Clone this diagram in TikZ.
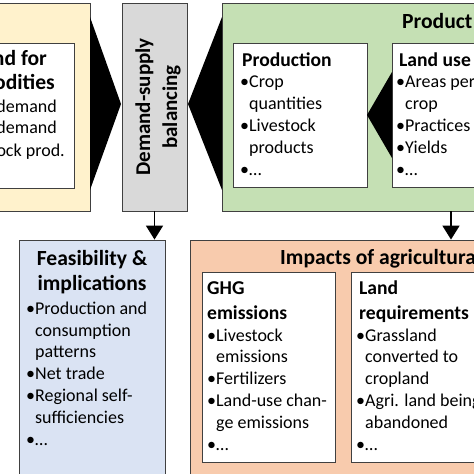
\documentclass[tikz,border=0pt]{standalone}
\usepackage{fontspec}
\setmainfont{Carlito}
\usetikzlibrary{arrows.meta}
\definecolor{cYel}{HTML}{FFF2CC}
\definecolor{cGray}{HTML}{D9D9D9}
\definecolor{cGreen}{HTML}{C5E0B4}
\definecolor{cBlue}{HTML}{DAE3F3}
\definecolor{cOrange}{HTML}{F8CBAD}
\definecolor{cLine}{HTML}{404040}
\newcommand{\bl}{\makebox[9pt][l]{•}}
\newcommand{\hh}{\hspace*{9pt}}
\begin{document}
\begin{tikzpicture}[x=1pt,y=-1pt,
  panel/.style={draw=cLine, line width=0.9pt, inner sep=0pt},
  wbox/.style={panel, fill=white},
  hd/.style={font=\fontsize{19.6}{25}\selectfont\bfseries, inner sep=0pt, anchor=base west, align=left},
  hdbig/.style={hd, font=\fontsize{21.6}{25}\selectfont\bfseries},
  bd/.style={font=\fontsize{18}{21.8}\selectfont, inner sep=0pt, anchor=base west, align=left},
  chev/.style={fill=black},
  arr/.style={-{Triangle[length=14pt,width=17pt]}, line width=1.8pt}
]
\useasboundingbox (0,0) rectangle (474,474);
\clip (0,0) rectangle (474,474);
% panels
\node[panel, fill=cYel, minimum width=100pt, minimum height=208pt] (dem) at (40,107) {};
\node[wbox, minimum width=84pt, minimum height=145pt] (demin) at (32,115.5) {};
\node[panel, fill=cGray, minimum width=65pt, minimum height=208pt] (bal) at (154.5,107) {};
\node[panel, fill=cGreen, minimum width=268pt, minimum height=208pt] (sup) at (356,107) {};
\node[wbox, minimum width=134pt, minimum height=144pt] (prod) at (300,115) {};
\node[wbox, minimum width=98pt, minimum height=144pt] (land) at (441,115) {};
\node[panel, fill=cBlue, minimum width=146pt, minimum height=250pt] (feas) at (92,365) {};
\node[panel, fill=cOrange, minimum width=300pt, minimum height=250pt] (imp) at (340,365) {};
\node[wbox, minimum width=133pt, minimum height=190pt] (ghg) at (268.5,367) {};
\node[wbox, minimum width=139pt, minimum height=190pt] (lreq) at (420.5,367) {};
% chevrons
\fill[chev] (90,17) -- (121,104) -- (90,190) -- cycle;
\fill[chev] (222,17) -- (188,104) -- (222,190) -- cycle;
\fill[chev] (392,72) -- (367,115) -- (392,158) -- cycle;
% arrows
\draw[arr] (bal.south) -- (bal.south |- feas.north);
\coordinate (a2) at (451,211);
\draw[arr] (a2) -- (a2 |- imp.north);
% left texts
\node[hdbig, anchor=base east] (t1) at (47,65) {nd for};
\node[hdbig, anchor=base east] (t2) at (55,89) {odities};
\node[bd, anchor=base east] (t3) at (57,112) {demand};
\node[bd, anchor=base east] (t4) at (57,133) {demand};
\node[bd, anchor=base east] (t5) at (65,156) {ock prod.};
% balancing
\node[font=\fontsize{21}{27}\selectfont\bfseries, rotate=90, align=center, inner sep=0pt] (btxt) at (158,107) {Demand-supply\\balancing};
% supply
\node[hdbig] (suph) at (402,28) {Product};
\node[hd] (ph) at (242,66) {Production};
\node[bd] (pb) at (240,175) {\bl Crop\\\hh quantities\\\bl Livestock\\\hh products\\\bl …};
\node[hd] (lh) at (399,66) {Land use};
\node[bd] (lb) at (396,175) {\bl Areas per\\\hh crop\\\bl Practices\\\bl Yields\\\bl …};
% feasibility
\node[hdbig, anchor=base, align=center] (fh) at (92,290) {Feasibility \&\\implications};
\node[bd] (fb) at (26,445) {\bl Production and\\\hh consumption\\\hh patterns\\\bl Net trade\\\bl Regional self-\\\hh sufficiencies\\\bl …};
% impacts
\node[hdbig] (ih) at (280,264) {Impacts of agricultura};
\node[hd] (gh) at (207,319) {GHG\\emissions};
\node[bd] (gb) at (207,450) {\bl Livestock\\\hh emissions\\\bl Fertilizers\\\bl Land-use chan-\\\hh ge emissions\\\bl …};
\node[hd] (rh) at (359,319) {Land\\requirements};
\node[bd] (rb) at (356,450) {\bl Grassland\\\hh converted to\\\hh cropland\\\bl Agri. land being\\\hh abandoned\\\bl …};
\end{tikzpicture}
\end{document}
